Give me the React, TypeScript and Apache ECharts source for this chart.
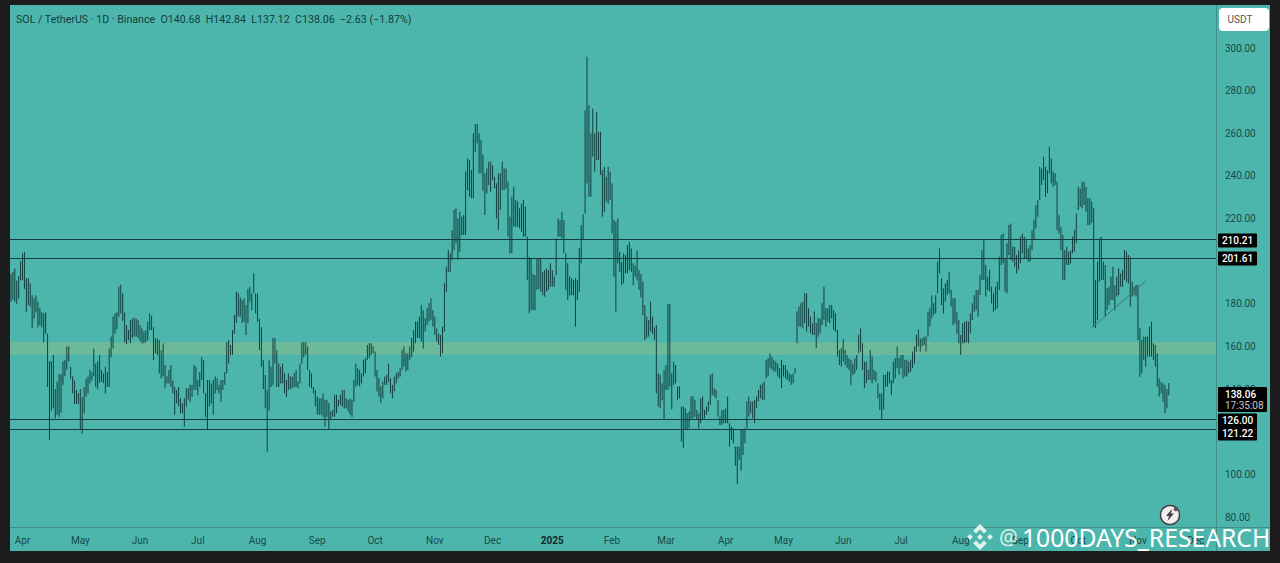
import React, { useEffect, useRef } from "react";
import * as echarts from "echarts";

const headerText = "SOL / TetherUS · 1D · Binance  O140.68  H142.84  L137.12  C138.06  −2.63 (−1.87%)";
const monthNames = ["2025", "Feb", "Mar", "Apr", "May", "Jun", "Jul", "Aug", "Sep", "Oct", "Nov", "Dec"];
const horizontalLevels = [210.21, 201.61, 126.0, 121.22];
const supplyBand = [156, 162];
const trendLine = [[561, 168.7], [589, 190.7]];
const lastPrice = "138.06";
const countdown = "17:35:08";

const hiLoA = [
  [194,181],[195,182],[196.6,181],[191,180],[193,182.5],[200,191],[203.6,191],[204.4,187],[192,176],[192,179.4],
  [189.6,178.6],[184,168.5],[182.5,173],[184,176],[181,169],[178,170],[176,169],[175.5,162],[176,166],[166,141],[153,116],
  [153,130],[156,131],[140,126.3],[143.5,128],[147,127],[147,129],[153,142],[153.6,146],[160,149],[160,153],
  [150.5,145],[146,138],[144,133],[139.6,133],[138,133],[140,120.8],[136.4,119],[141,128.6],[145,136.4],[146,138],[149,142.7],
  [148,144],[159,146],[152,141],[153,140],[156,143],[149,143.5],[147.4,142.7],[150.5,138],[148,141],[159,141],
  [164.6,155],[174,159],[175.5,166],[176,168],[188,174],[189,175.5],[185,172],[176,162],[170,161],[167.7,163],
  [172.4,161.5],[173,164],[173.6,164.6],[173,164.6],[172.4,164],[170,162.5],[168.5,161.5],[167,161.5],[167.7,162],[171.6,163],[175.5,167.7],
  [174.3,167.7],[169,153.6],[163.8,156.8],[163.8,156],[163,147.4],[158.3,145],[161.4,146],[151.3,140.4],[146,142.7],[149,142.7],
  [151.3,141],[144,138],[141,128],[139.6,133.3],[141,132],[135.7,128.6],[133.3,128.6],[135.7,122.4],[140.4,131.8],[140.4,135],[142,134],
  [142,136.4],[151.3,139.6],[150.5,139.6],[144.3,137.2],[148,141],[155,144.3],[153.6,138],[138,127],[144.3,121],[144.3,131.8],
  [142.7,133.3],[144.3,128],[146,138],[145,139.6],[142,138],[144.3,134],[144.3,139.6],[148,142],[162,147.4],[163,152],
  [160.7,156],[167.7,156],[174.7,166],[185.7,171],[185,174],[183,174],[181.8,171],[182.5,171.6],[179.4,165.4],[187,171],[188,181],
  [184.9,177],[194.3,185],[184.9,175.5],[184.9,171.6],[173,158.3],[169,150.5],[153.6,140],[146.6,131],[139.6,110.7],[153.6,130],
  [150.5,141],[164,142],[164,152],[158.3,141],[152,141],[150.5,142.7],[152,142.7],[147.4,138],[144.3,136.4],[147.4,139.6],[146,140],
  [145.8,140.4],[147.4,141],[149,141],[143.5,140.4],[152,142.7],[162,152],[162,155],[162,156],[160,149],[149,141],
  [147.4,140.4],[141,138],[139.6,131.8],[136.4,128],
];

const hiLoB = [
  [135.7,128],[135.7,128],[138,127],[135,122.4],[135,127],[133.4,121],[129.5,125.6],[130.3,127],[137.3,127],[137.3,128.7],
  [135,131.8],[137.3,132.6],[139.6,131.8],[139.6,131],[135.7,131],[135,129.5],[135.5,128],[135,127],[144.3,134],[152,141.2],[149.8,142],
  [149,141.2],[147.4,142.7],[153.7,145.9],[154.5,147.4],[160.7,153.7],[161.5,154.5],[161.5,156],[160,156.8],[157.6,145.9],[149,138.9],
  [145,136.5],[141.2,133.4],[143.5,135.7],[145.9,142],[146.7,142],[152,143.5],[145,138],[142,135.7],[145.9,138.9],[147.4,142.7],
  [148.2,145],[149.8,145.9],[158.4,149],[160,150.6],[156.8,148.2],[156.8,149],[160,153.7],[164,155],[167.8,157.6],[171.7,161.5],[171.7,163.9],
  [174,163.9],[179.5,162.3],[177,159],[173.2,167],[178,170],[180.3,171.7],[182.6,172.5],[177,169.3],[174,165.4],[168.5,162.3],
  [166,160.7],[165.4,155.3],[169.3,156.8],[189.6,167],
];

const hiLoC = [
  [197.4,185.7],[205.3,195],[203.7,195],[214.6,200.6],[224,205.3],[224.8,208.4],[220,200.6],[223.2,204.5],[220.9,212.3],[221.7,212.3],
  [242,212.3],[248.2,233.4],[247.5,230.3],[242.8,229.5],[260,229.5],[264.3,251.4],[264.3,255.3],[260,241.2],[256.8,241.2],[250,233],[241.2,221.7],
  [243.5,231.8],[246.7,235.7],[246.7,232.6],[245,238],[239.6,234.2],[236.5,220],[241.2,214.6],[241.2,224],[246.7,233.4],[243.5,233.4],
  [243.5,234.2],[237.3,211.5],[220.9,203.7],[230.3,203.7],[235,216.2],[228.7,216],[228,216.2],[224.8,215.4],[227,213.8],[228.7,211.5],
  [225.6,211.5],[211.5,191.2],[202,175.6],[201.3,177],[194,177],[193.5,177],[201.3,186.5],[201,187],[201.3,185.7],[195,184],[195.8,183.4],
  [196.6,185.7],[195.8,186.5],[199,188],[195.8,188],[192.8,188],[210.7,193.5],[220,211.5],[219.3,211.5],[223.2,210.7],[219.3,203.7],
  [203.7,186.5],[199,181.8],[192.8,184],[192,184],[191.2,184],[192,169.3],[191.2,181.8],[206,185.7],[217,199],[222,210],
];

const hiLoD = [
  [270.9,222.4],[295.9,236.5],[273.2,230.2],[260,230.2],[271.6,249],[260,242],[270,247.4],[260.7,247.4],[260.7,240.4],[242.7,220.9],
  [244.3,223.2],[239.6,227.9],[244.3,227],[242,228.7],[236.5,213],[219.3,192.7],[218.5,176.3],[220,199],[204.4,195],[199.7,188.8],
  [203.7,189.6],[202.9,194.3],[207.6,194.3],[209,195.8],[206,195],[199,188.8],[198,192.7],[205,191],[195.8,186.5],[194,183],[190.4,174.7],
  [179.4,163],[174,164],[172.4,164.6],[181,167],[174,166],[169,163],
];

const hiLoE = [
  [170.1,138],[147.4,131.8],[146.7,131],[142.7,134.9],[149,125.9],[151.3,139.6],[180,139.6],[180,141.2],[147.4,130.5],[152.9,142],
  [151.3,142.7],[141.2,134.9],[141.2,135.7],[131.8,115.4],[131.8,112.3],[131,120.9],[128.7,120.9],[129.5,121.6],[136.5,125.6],[136.8,126.3],[135,127],
  [130.2,125.6],[128.7,121.6],[135.7,124],[136.5,125.6],[130.2,126.3],[131.8,127.9],[134.2,129.5],[146.7,132.6],[147.4,137.3],[140.4,136.5],
  [139.6,135.7],[134.9,127.1],[127.1,123.2],[130.2,123.2],[130.2,124],[131,124],[136.5,124],[124,113],[122.4,116.2],[121.6,114.6],
  [113,104],[113,95.5],[113,106.8],[121,101.8],[120.9,109.1],[121.6,114.6],[134.2,121.6],[136.5,127.1],[134.2,128.7],[134.2,126.3],
  [134.9,124],[136.5,131],[139.6,134.2],[142,135.7],[142.7,134.9],[143.5,134.9],[153.7,145],[154.5,145.9],[156.8,149.8],[155,149],[153.7,148.2],
  [152.9,148.2],[152,145.9],[149.8,145],[153.7,140.4],[151.3,145.9],[151.3,145],[149,144.3],[147.4,143.5],[146.7,142],[147.4,142.7],
  [149.8,147.4],[176.4,161.5],[178.7,169.3],[180.3,169.3],[181,168.5],[185,170.9],[185,167],[178,169.3],[174,166.2],[170.9,165.4],
  [176.4,165.4],[170.9,159.2],[173.2,164.6],[173.2,166.2],[180.3,170],[188,172.4],[178,169.3],[178,171.7],[179.5,170.9],[179.5,173.2],
  [177.1,167.8],[175.6,167],[167.8,155.3],[158.4,151.3],[159.2,150.6],[163.4,152.9],[158.4,151.3],[156,150],[154.5,149],[153.7,142],[152,146.7],
  [154.5,147.4],[156,149],[165.4,156.8],[168.5,157.6],[161.5,149],[152.9,140.4],[152.9,142.7],[149,144.3],[158.4,144.3],[155.3,142.7],
  [149,144.3],[148.2,143.5],[142.7,135.7],[138,130.2],[138,125.9],[146.7,130.5],[146.7,141.2],[148.2,141.2],[148.2,142.7],[144.3,137.3],
  [152.9,142.7],[154.5,145],[160,149.8],[154.5,146.7],[156,149.8],[156,145],[153.7,145.9],[153.7,145.9],[152.9,147.4],[153.7,148.2],
  [157.6,149.8],[160,152],[165.4,157.6],[167.8,160],[163.8,157.6],[163.8,160],[164.6,160.7],[164.6,157.6],[176.4,164.6],[178,169.3],[184,173.2],
  [180.3,174.8],[184,175.6],
];

const hiLoF = [
  [199.8,184.9],[206,194.3],[192,179.4],[187.3,175.5],[189.6,181],[191.2,184.1],[195,184.9],[186.5,178.7],[182.6,170],[182.6,170.8],[176,166],
  [172.4,161.5],[165.4,156],[170.8,161.5],[171.6,161.5],[172,162],[171.6,161.5],[175.5,166.2],[180.2,172.4],[184.1,176.3],[186.5,177.1],[186.5,174],
  [193.5,184.1],[205.2,191.2],[209.9,191.2],[198.2,183.4],[192.7,186.5],[195.9,185.7],[188,180.2],[184.9,176.3],[188,177.1],[190.4,177.9],
  [202.1,186.5],[212.3,198.2],[213,199],[201.3,185.7],[208.4,184.9],[217,202.9],[217.7,200.5],[206.8,199.8],[206.8,197.4],[202.9,194.3],[205,196],
  [211.5,199],[213,203.7],[211.5,201.3],[209.9,201.3],[206,199.8],[207.6,199.8],[214.6,205.2],[219.3,209.9],[226.3,215.4],[228.7,220.9],
  [244.3,228.7],[243.5,235.7],[249,238],[244.3,230.2],[242.7,231.8],[253.7,241.2],[248.2,236.5],[242,234.9],[241.2,235.7],[237.3,214.6],
  [221.6,213],[216,205.2],[212.3,191.2],[205.2,191.2],[206.8,198.2],[204.5,198.2],[205,199],[211.5,203.7],[214.6,204.5],[222.4,208.4],[234.9,224],
  [234.1,225.5],[237.3,224.8],[237.3,226.3],[234.9,223.2],[229.5,217],[229.5,217],[228,218],[224.8,169.3],[191.2,168.5],[199.8,172.4],[210.7,190.4],
  [211.5,191.2],[199.8,191.2],[198.2,174],[187.3,177.1],[188,179.4],[192.7,181.8],[197.4,181.8],[188.8,177.1],[192.7,183.4],[196.6,184.1],
  [194.3,188],[195.9,188],[205.2,191.2],[204.5,190.4],[202.9,189.6],[202.1,178.7],[190.4,183.4],[188,184.1],[188.8,183.4],[188.8,163],
  [168.5,145.8],[163,147.4],[164.6,153.7],[164.6,150.5],[164.6,155.2],[169.3,155.2],[171.6,155.2],[161.5,153.7],[160.7,150.5],[156.8,141.2],
  [145,136.5],[143.5,138],[142.7,134.1],[142,128.6],[140,131],[142.84,137.12],
];

const hiLo = [...hiLoA, ...hiLoB, ...hiLoC, ...hiLoD, ...hiLoE, ...hiLoF];

const START_UTC = Date.UTC(2024, 2, 26);
const CATEGORY_COUNT = 626;
const categories = Array.from({ length: CATEGORY_COUNT }, (_, i) =>
  new Date(START_UTC + i * 86400000).toISOString().slice(0, 10)
);

const TEAL = "#4db6ac";
const INK = "#06292c";
const DIVIDER = "#3f8f88";

const bolt = [[1172, 509], [1166, 516], [1169, 516], [1167.5, 521], [1174, 513.5], [1171, 513.5]];

const diamond = (cx: number, cy: number, r: number) => [[cx, cy - r], [cx + r, cy], [cx, cy + r], [cx - r, cy]];
const chevron = (cx: number, cy: number, s: number) => [
  [cx, cy + s * 13], [cx + 6.8, cy + s * 6.2], [cx + 4, cy + s * 3.4], [cx, cy + s * 7.4], [cx - 4, cy + s * 3.4], [cx - 6.8, cy + s * 6.2],
];

export default function App() {
  const ref = useRef<HTMLDivElement>(null);
  useEffect(() => {
    const chart = echarts.init(ref.current!, undefined, { renderer: "svg" });
    const tag = (y: number, text: string) => [
      { type: "rect", z: 100, shape: { x: 1218, y: y - 7, width: 39, height: 14, r: 1 }, style: { fill: "#000" } },
      { type: "text", z: 101, x: 1237.5, y, style: { text, fill: "#fff", font: "500 10px Roboto", align: "center", verticalAlign: "middle" } },
    ];
    const logoFill = "rgba(255,255,255,0.82)";
    chart.setOption({
      animation: false,
      backgroundColor: "#1c1c1c",
      grid: { left: 10, right: 64, top: 5.4, bottom: 35.34 },
      xAxis: {
        type: "category",
        data: categories,
        boundaryGap: true,
        axisLine: { show: false },
        axisTick: { show: false },
        splitLine: { show: false },
        axisLabel: {
          color: "#164a4b",
          fontFamily: "Roboto",
          fontSize: 10,
          margin: 8,
          hideOverlap: false,
          interval: (_: number, v: string) => v.endsWith("-01"),
          formatter: (v: string) => {
            const m = Number(v.slice(5, 7)) - 1;
            if (v === "2025-01-01") return "{y|2025}";
            return m === 0 ? "" : monthNames[m];
          },
          rich: { y: { fontWeight: "bold", fontSize: 10, color: "#10292b", fontFamily: "Roboto" } },
        },
      },
      yAxis: {
        type: "value",
        position: "right",
        min: 75,
        max: 320,
        interval: 5,
        splitLine: { show: false },
        axisLine: { show: false },
        axisTick: { show: false },
        axisLabel: {
          color: "#164a4b",
          fontFamily: "Roboto",
          fontSize: 10,
          margin: 9,
          showMinLabel: false,
          showMaxLabel: false,
          formatter: (v: number) => (v % 20 === 0 && v <= 300 ? v.toFixed(2) : ""),
        },
      },
      series: [
        {
          type: "custom",
          name: "band",
          z: 1,
          data: [],
          coordinateSystem: "cartesian2d",
          renderItem: () => null,
          markArea: {
            silent: true,
            itemStyle: { color: "#6dba9b", opacity: 1 },
            data: [[{ yAxis: supplyBand[0] }, { yAxis: supplyBand[1] }]],
          },
        },
        {
          type: "custom",
          name: "SOL / TetherUS",
          z: 3,
          silent: true,
          coordinateSystem: "cartesian2d",
          encode: { x: 0, y: [1, 2] },
          data: hiLo.map((d, i) => [i, d[0], d[1]]),
          renderItem: (_: any, api: any) => {
            const a = api.coord([api.value(0), api.value(1)]);
            const b = api.coord([api.value(0), api.value(2)]);
            return {
              type: "line",
              shape: { x1: a[0], y1: a[1], x2: a[0], y2: b[1] },
              style: { stroke: INK, lineWidth: 0.85 },
            };
          },
        },
        {
          type: "line",
          name: "trend",
          z: 4,
          symbol: "none",
          silent: true,
          data: trendLine,
          lineStyle: { color: "#3c7a76", width: 1 },
          markLine: {
            silent: true,
            symbol: ["none", "none"],
            lineStyle: { color: "#123c3e", width: 1, type: "solid" },
            label: { show: false },
            data: horizontalLevels.map((v) => ({ yAxis: v })),
          },
        },
      ],
      graphic: {
        elements: [
          { type: "rect", z: -1, shape: { x: 10, y: 5, width: 1260, height: 546 }, style: { fill: TEAL } },
          { type: "line", z: 1, shape: { x1: 1216.5, y1: 5, x2: 1216.5, y2: 551 }, style: { stroke: DIVIDER, lineWidth: 1 } },
          { type: "line", z: 1, shape: { x1: 10, y1: 527.5, x2: 1270, y2: 527.5 }, style: { stroke: DIVIDER, lineWidth: 1 } },
          { type: "text", z: 50, x: 16, y: 19, style: { text: headerText, fill: "#123c3e", font: "10.65px Roboto", verticalAlign: "middle" } },
          { type: "rect", z: 50, shape: { x: 1219, y: 8, width: 50, height: 23, r: 4 }, style: { fill: "#fff" } },
          { type: "text", z: 51, x: 1240, y: 19.5, style: { text: "USDT", fill: "#555", font: "10px Roboto", align: "center", verticalAlign: "middle" } },
          ...tag(240.5, "210.21"),
          ...tag(258.5, "201.61"),
          ...tag(420.5, "126.00"),
          ...tag(433.5, "121.22"),
          { type: "rect", z: 100, shape: { x: 1218, y: 387, width: 49, height: 25, r: 1 }, style: { fill: "#000" } },
          { type: "text", z: 101, x: 1225, y: 394, style: { text: lastPrice, fill: "#fff", font: "500 10px Roboto", verticalAlign: "middle" } },
          { type: "text", z: 101, x: 1225, y: 405, style: { text: countdown, fill: "#c9c9c9", font: "10px Roboto", verticalAlign: "middle" } },
          { type: "polygon", z: 110, shape: { points: diamond(980, 537, 2.9) }, style: { fill: logoFill } },
          { type: "polygon", z: 110, shape: { points: diamond(970, 537, 2.9) }, style: { fill: logoFill } },
          { type: "polygon", z: 110, shape: { points: diamond(990, 537, 2.9) }, style: { fill: logoFill } },
          { type: "polygon", z: 110, shape: { points: chevron(980, 537, -1) }, style: { fill: logoFill } },
          { type: "polygon", z: 110, shape: { points: chevron(980, 537, 1) }, style: { fill: logoFill } },
          { type: "text", z: 110, x: 999, y: 537, style: { text: "@", fill: "rgba(255,255,255,0.8)", font: "21px 'Noto Sans'", verticalAlign: "middle" } },
          { type: "text", z: 110, x: 1022, y: 537, style: { text: "1000DAYS_RESEARCH", fill: "#fff", font: "24.7px 'Noto Sans'", verticalAlign: "middle" } },
          { type: "circle", z: 110, shape: { cx: 1170, cy: 515, r: 9.5 }, style: { fill: "#f1efef", stroke: "#4b3b42", lineWidth: 1.5 } },
          { type: "polygon", z: 111, shape: { points: bolt }, style: { fill: "#4b3b42" } },
          { type: "circle", z: 111, shape: { cx: 1176, cy: 509, r: 2.3 }, style: { fill: "#6a4a55" } },
        ],
      },
    });
    return () => chart.dispose();
  }, []);
  return <div ref={ref} style={{ position: "fixed", left: 0, top: 0, width: 1280, height: 563 }} />;
}
